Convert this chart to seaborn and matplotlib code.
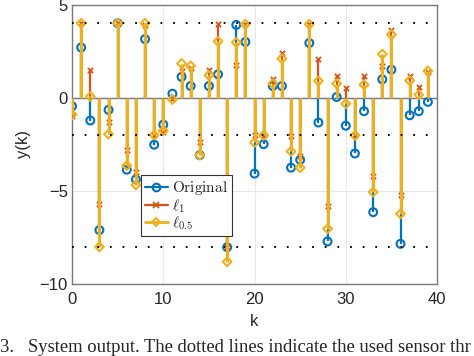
import numpy as np
import pandas as pd
import matplotlib
matplotlib.use("Agg")
import matplotlib.pyplot as plt
from matplotlib.lines import Line2D
import seaborn as sns

k = list(range(40))
original = [-0.45, 2.7, -1.22, -7.1, -0.65, 4.0, -3.86, -4.38, 3.15, -2.52,
            -1.44, 0.22, 1.12, 0.63, -3.08, 0.63, 1.26, -8.02, 3.91, 3.0,
            -4.07, -2.49, 0.63, 0.63, -3.75, -3.33, 2.94, -1.33, -7.71, 0.04,
            -1.5, -2.99, -0.72, -6.14, 0.99, 1.51, -7.84, -0.94, -0.72, -0.22]
l1 = [-1.0, 4.0, 1.5, -5.7, -1.3, 4.0, -2.8, -4.0, 3.9, -2.0,
      -1.85, -0.09, 1.44, 1.59, -2.4, 1.51, 3.95, -8.0, 1.78, 3.95,
      -2.0, -2.02, 1.0, 2.38, -2.04, -3.15, 3.95, 2.1, -5.82, 1.19,
      0.54, -2.02, 1.17, -4.18, 1.69, 3.66, -5.24, 1.15, 0.56, 1.4]
l05 = [-0.9, 4.0, 0.07, -8.0, -1.95, 4.0, -3.64, -4.68, 4.0, -2.0,
       -1.77, -0.09, 1.84, 1.71, -3.08, 1.21, 3.03, -8.8, 2.97, 3.95,
       -2.4, -2.02, 0.76, 2.1, -2.88, -3.75, 3.95, 0.9, -7.03, 0.76,
       -0.32, -2.02, 0.7, -5.06, 2.34, 3.39, -6.23, 0.92, 0.16, 1.44]
thresholds = [4, -2, -8]
series_names = [r"$\mathrm{Original}$", r"$\ell_1$", r"$\ell_{0.5}$"]
xticks = [0, 10, 20, 30, 40]
yticks = [-10, -5, 0, 5]
caption = "3.   System output. The dotted lines indicate the used sensor thr"

sns.set_theme(style="white")
plt.rcParams['font.family'] = ['Liberation Sans', 'DejaVu Sans']
plt.rcParams['mathtext.fontset'] = 'cm'

colors = ["#0072BD", "#D95319", "#EDB120"]

fig = plt.figure(figsize=(4.74, 3.56), dpi=100)
ax = fig.add_axes([0.152, 0.202, 0.770, 0.785])

df = pd.DataFrame({"k": k * 3,
                   "y": original + l1 + l05,
                   "series": [series_names[0]] * 40 + [series_names[1]] * 40 + [series_names[2]] * 40})

# grid
for xv in xticks[1:-1]:
    ax.axvline(xv, color="#e8e8e8", lw=0.8, zorder=0)
for yv in yticks[1:-1]:
    ax.axhline(yv, color="#e8e8e8", lw=0.8, zorder=0)

lws = [1.6, 1.6, 2.2]
for i, name in enumerate(series_names):
    sub = df[df["series"] == name]
    ax.vlines(sub["k"], 0, sub["y"], color=colors[i], lw=lws[i], zorder=2 + i)
    if i == 1:
        sns.scatterplot(data=sub, x="k", y="y", ax=ax, marker="x", s=14,
                        color=colors[i], linewidth=1.3, zorder=2.5 + i, legend=False)
    elif i == 0:
        sns.scatterplot(data=sub, x="k", y="y", ax=ax, marker="o", s=32,
                        facecolor="none", edgecolor=colors[i], linewidth=1.5,
                        zorder=2.5 + i, legend=False)
    else:
        sns.scatterplot(data=sub, x="k", y="y", ax=ax, marker="D", s=20,
                        facecolor="none", edgecolor=colors[i], linewidth=1.5,
                        zorder=2.5 + i, legend=False)

ax.axhline(0, color="#6b7b8c", lw=1.0, zorder=1.5)

for t in thresholds:
    ax.axhline(t, color="black", lw=1.4, linestyle=(0, (0.9, 5.6)), zorder=10)

ax.set_xlim(0, 40)
ax.set_ylim(-10, 5)
ax.set_xticks(xticks)
ax.set_yticks(yticks)
ax.tick_params(direction="in", length=3, labelsize=12, color="#555555",
               top=False, right=False)
ax.tick_params(axis="x", pad=6)
ax.tick_params(axis="y", pad=3)
ax.set_xlabel("k", fontsize=12, labelpad=5)
ax.set_ylabel("y(k)", fontsize=12, labelpad=6)
for s in ax.spines.values():
    s.set_color("#7a7a7a")
    s.set_linewidth(1.0)

handles = [
    Line2D([], [], color=colors[0], lw=1.6, marker="o", markersize=5.5,
           markerfacecolor="none", markeredgewidth=1.5),
    Line2D([], [], color=colors[1], lw=1.6, marker="x", markersize=4,
           markeredgewidth=1.3),
    Line2D([], [], color=colors[2], lw=2.0, marker="D", markersize=4.5,
           markerfacecolor="none", markeredgewidth=1.5),
]
leg = ax.legend(handles, series_names, loc="lower left",
                bbox_to_anchor=(0.189, 0.172), frameon=True, fancybox=False,
                edgecolor="#333333", framealpha=1, borderaxespad=0,
                prop={"size": 11},
                handlelength=1.5, handletextpad=0.3, labelspacing=0.0,
                borderpad=0.25)
leg.get_frame().set_linewidth(0.8)
leg.set_zorder(20)

fig.text(0.0, 0.0, caption, fontsize=13.4,
         family=["Liberation Serif", "DejaVu Serif"], ha="left", va="bottom")

fig.savefig("out.png", dpi=100)
